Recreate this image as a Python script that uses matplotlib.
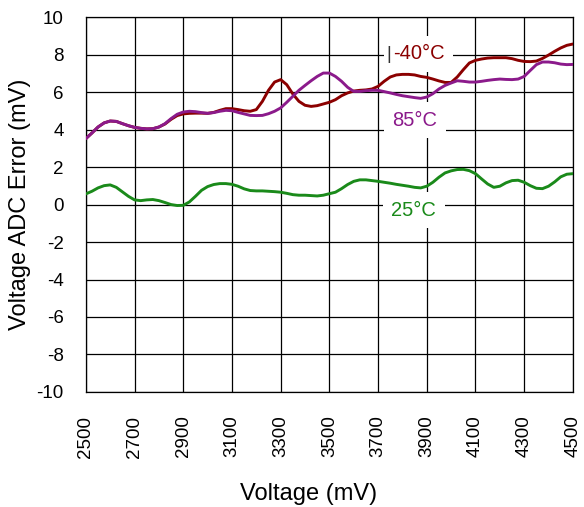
import matplotlib
matplotlib.use("Agg")
import matplotlib.pyplot as plt

plt.rcParams['font.family'] = ['Liberation Sans', 'DejaVu Sans']

voltage = list(range(2500, 4501, 25))

err_m40 = [3.52, 3.82, 4.14, 4.36, 4.46, 4.44, 4.32, 4.21, 4.12, 4.07,
           4.04, 4.05, 4.14, 4.30, 4.55, 4.75, 4.84, 4.87, 4.88, 4.88, 4.87,
           4.92, 5.03, 5.12, 5.12, 5.07, 5.01, 4.98, 5.07, 5.51, 6.10,
           6.54, 6.67, 6.40, 5.90, 5.51, 5.30, 5.24, 5.28, 5.37, 5.46,
           5.60, 5.81, 5.96, 6.06, 6.10, 6.12, 6.17, 6.31, 6.58, 6.81,
           6.92, 6.95, 6.95, 6.92, 6.84, 6.79, 6.70, 6.60, 6.52, 6.52,
           6.81, 7.20, 7.56, 7.70, 7.77, 7.82, 7.84, 7.84, 7.84, 7.79,
           7.70, 7.64, 7.63, 7.66, 7.80, 7.98, 8.18, 8.36, 8.50, 8.57]

err_85 = [3.52, 3.82, 4.14, 4.36, 4.46, 4.44, 4.32, 4.21, 4.12, 4.07,
          4.04, 4.05, 4.14, 4.32, 4.59, 4.82, 4.94, 4.98, 4.96, 4.91, 4.87,
          4.91, 4.98, 5.03, 5.01, 4.92, 4.84, 4.76, 4.75, 4.76, 4.85,
          4.98, 5.16, 5.46, 5.78, 6.10, 6.36, 6.61, 6.84, 7.02, 7.02,
          6.84, 6.58, 6.26, 6.04, 6.04, 6.08, 6.10, 6.10, 6.03, 5.96,
          5.88, 5.81, 5.76, 5.71, 5.67, 5.74, 5.92, 6.17, 6.36, 6.49,
          6.61, 6.58, 6.54, 6.54, 6.58, 6.63, 6.67, 6.70, 6.68, 6.67,
          6.70, 6.84, 7.16, 7.47, 7.61, 7.61, 7.57, 7.50, 7.47, 7.48]

err_25 = [0.57, 0.71, 0.89, 1.01, 1.05, 0.92, 0.68, 0.44, 0.25, 0.21,
          0.25, 0.27, 0.21, 0.11, 0.00, -0.05, -0.04, 0.14, 0.44, 0.76, 0.96,
          1.07, 1.12, 1.12, 1.08, 0.98, 0.84, 0.75, 0.73, 0.73, 0.71,
          0.69, 0.66, 0.60, 0.53, 0.50, 0.50, 0.48, 0.46, 0.50, 0.58,
          0.66, 0.85, 1.07, 1.24, 1.32, 1.32, 1.28, 1.24, 1.19, 1.14,
          1.08, 1.03, 0.98, 0.92, 0.89, 0.98, 1.19, 1.46, 1.69, 1.80,
          1.87, 1.88, 1.81, 1.65, 1.37, 1.10, 0.92, 0.98, 1.16, 1.28,
          1.30, 1.19, 1.01, 0.87, 0.85, 0.98, 1.21, 1.48, 1.62, 1.65]

x_ticks = list(range(2500, 4501, 200))
y_ticks = list(range(-10, 11, 2))

labels = ["-40°C", "85°C", "25°C"]
label_pos = [(3866, 8.05), (3852, 4.5), (3846, -0.3)]
colors = ["#8B0000", "#8B1A8B", "#1A8A1A"]

fig = plt.figure(figsize=(5.84, 5.07), dpi=100)
ax = fig.add_axes([0.147, 0.227, 0.834, 0.739])

for ys, c in zip([err_m40, err_85, err_25], colors):
    ax.plot(voltage, ys, color=c, lw=2.1, zorder=3,
            solid_joinstyle='round', solid_capstyle='round')

for (lx, ly), t, c in zip(label_pos, labels, colors):
    ax.text(lx, ly, t, color=c, fontsize=14.5, ha='center', va='center', zorder=2,
            bbox=dict(boxstyle='square,pad=0.42', fc='white', ec='none'))
ax.text(label_pos[0][0] - 124, label_pos[0][1] - 0.05, "|", color='#333333', fontsize=13,
        ha='center', va='center', zorder=2.5)

ax.set_xlim(2500, 4500)
ax.set_ylim(-10, 10)
ax.set_xticks(x_ticks)
ax.set_yticks(y_ticks)
ax.set_xticklabels([str(v) for v in x_ticks], rotation=90)
ax.set_yticklabels([str(v) for v in y_ticks])
ax.tick_params(length=0, labelsize=13.5)
ax.tick_params(axis='y', pad=16)
ax.tick_params(axis='x', pad=17)
ax.grid(True, color='black', lw=0.9)
ax.set_axisbelow(True)
for s in ax.spines.values():
    s.set_color('black')
    s.set_linewidth(0.9)

ax.set_xlabel("Voltage (mV)", fontsize=17)
ax.set_ylabel("Voltage ADC Error (mV)", fontsize=17)
ax.xaxis.set_label_coords(0.458, -0.243)
ax.yaxis.set_label_coords(-0.113, 0.5)

fig.savefig("out.png", dpi=100)
